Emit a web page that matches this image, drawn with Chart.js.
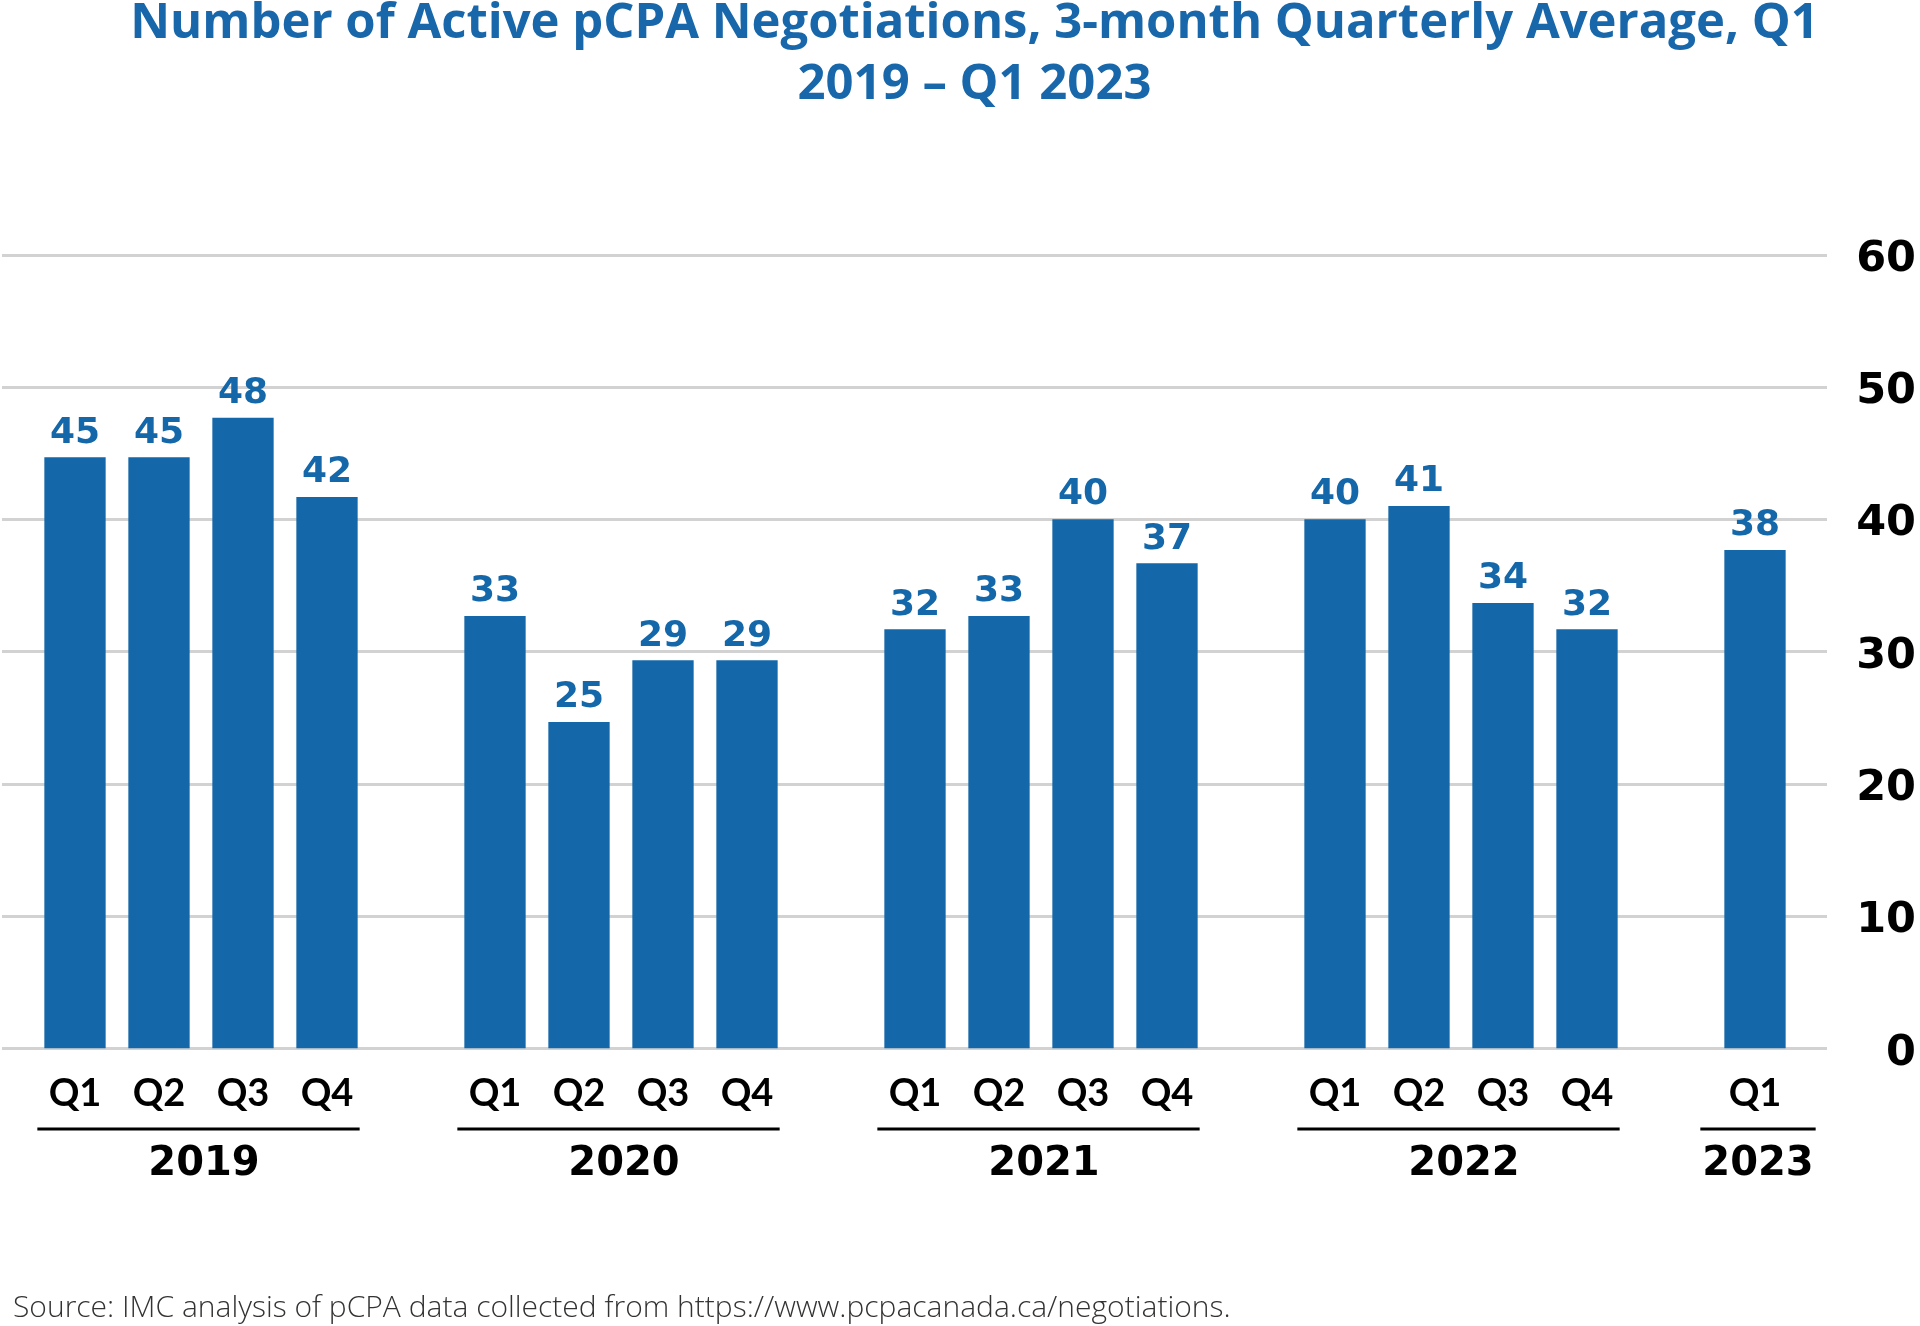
<!DOCTYPE html>
<html>
<head>
<meta charset="utf-8">
<script src="https://cdn.jsdelivr.net/npm/chart.js@4.4.1/dist/chart.umd.min.js"></script>
<style>
  html, body { margin: 0; padding: 0; background: #fff; }
  #wrap { width: 1920px; height: 1326px; position: relative; }
</style>
</head>
<body>
<div id="wrap"><canvas id="myChart"></canvas></div>
<script>
// active pCPA negotiations, 3-month quarterly averages
var years = ["2019", "2020", "2021", "2022", "2023"];
var quarters = ["Q1", "Q2", "Q3", "Q4"];
var values2019 = [44.67, 44.67, 47.67, 41.67];
var values2020 = [32.67, 24.67, 29.33, 29.33];
var values2021 = [31.67, 32.67, 40, 36.67];
var values2022 = [40, 41, 33.67, 31.67];
var values2023 = [37.67];
var yTicks = [0, 10, 20, 30, 40, 50, 60];

var seriesByYear = [values2019, values2020, values2021, values2022, values2023];

var BLUE = "#1467a9";
var TITLE_BLUE = "#1767aa";

// flat category list, one blank slot between years
var labels = [];
var data = [];
var groups = [];
seriesByYear.forEach(function (vals, i) {
    var from = labels.length;
    vals.forEach(function (v, q) {
        labels.push(quarters[q]);
        data.push(v);
    });
    groups.push({ year: years[i], from: from, to: labels.length - 1 });
    if (i < seriesByYear.length - 1) {
        labels.push("");
        data.push(null);
    }
});

var gridLines = {
    id: "gridLines",
    beforeDatasetsDraw: function (chart) {
        var ctx = chart.ctx;
        var y = chart.scales.y;
        ctx.save();
        ctx.strokeStyle = "#d2d2d2";
        ctx.lineWidth = 3;
        yTicks.forEach(function (t) {
            var py = Math.round(y.getPixelForValue(t)) + 0.5;
            ctx.beginPath();
            ctx.moveTo(2, py);
            ctx.lineTo(1827, py);
            ctx.stroke();
        });
        ctx.restore();
    }
};

var valueLabels = {
    id: "valueLabels",
    afterDatasetsDraw: function (chart) {
        var ctx = chart.ctx;
        var meta = chart.getDatasetMeta(0);
        ctx.save();
        ctx.fillStyle = BLUE;
        ctx.font = "bold 36px 'DejaVu Sans'";
        ctx.textAlign = "center";
        ctx.textBaseline = "bottom";
        meta.data.forEach(function (bar, i) {
            var v = chart.data.datasets[0].data[i];
            if (v === null) return;
            ctx.fillText(String(Math.round(v)), bar.x, bar.y - 6);
        });
        ctx.restore();
    }
};

var yearAxis = {
    id: "yearAxis",
    afterDraw: function (chart) {
        var ctx = chart.ctx;
        var x = chart.scales.x;
        var meta = chart.getDatasetMeta(0);
        var lineY = x.bottom - 11;
        ctx.save();
        ctx.font = "bold 40px 'DejaVu Sans'";
        ctx.fillStyle = "#000";
        ctx.strokeStyle = "#000";
        ctx.lineWidth = 3;
        ctx.textAlign = "center";
        ctx.textBaseline = "middle";
        groups.forEach(function (g) {
            var first = meta.data[g.from];
            var last = meta.data[g.to];
            var left = first.x - first.width / 2 - 7;
            var right = last.x + last.width / 2 + 2;
            var mid = (first.x + last.x) / 2 + 3;
            var tw = ctx.measureText(g.year).width;
            left = Math.min(left, mid - tw / 2 - 2);
            right = Math.max(right, mid + tw / 2 + 2);
            ctx.beginPath();
            ctx.moveTo(left, lineY);
            ctx.lineTo(right, lineY);
            ctx.stroke();
            ctx.fillText(g.year, mid, lineY + 36);
        });
        ctx.font = "300 30px 'Open Sans'";
        ctx.fillStyle = "#333";
        ctx.textAlign = "left";
        ctx.fillText("Source: IMC analysis of pCPA data collected from https://www.pcpacanada.ca/negotiations.", 13, 1308);
        ctx.restore();
    }
};

document.addEventListener("DOMContentLoaded", function () {
    var canvas = document.getElementById("myChart");
    var ctx = canvas.getContext("2d");
    new Chart(ctx, {
        type: "bar",
        data: {
            labels: labels,
            datasets: [
                {
                    label: "Active pCPA negotiations",
                    data: data,
                    backgroundColor: BLUE,
                    borderWidth: 0,
                    barPercentage: 0.73,
                    categoryPercentage: 1
                }
            ]
        },
        options: {
            responsive: true,
            maintainAspectRatio: false,
            animation: false,
            layout: {
                padding: { left: 33, right: 4, top: 0, bottom: 186 }
            },
            plugins: {
                legend: { display: false },
                tooltip: { enabled: false },
                title: {
                    display: true,
                    text: ["Number of Active pCPA Negotiations, 3-month Quarterly Average, Q1", "2019 \u2013 Q1 2023"],
                    color: TITLE_BLUE,
                    font: { family: "Open Sans", size: 49, weight: "bold", lineHeight: 1.25 },
                    padding: { top: -7, bottom: 139 }
                }
            },
            scales: {
                x: {
                    grid: { display: false, drawTicks: false },
                    border: { display: false },
                    ticks: {
                        color: "#000",
                        font: { family: "Lato", size: 38, weight: "bold" },
                        padding: 23,
                        autoSkip: false,
                        maxRotation: 0
                    }
                },
                y: {
                    position: "right",
                    min: 0,
                    max: 60,
                    grid: { display: false, drawTicks: false },
                    border: { display: false },
                    afterFit: function (scale) { scale.width = 119; },
                    ticks: {
                        stepSize: 10,
                        color: "#000",
                        crossAlign: "far",
                        padding: 0,
                        labelOffset: 5,
                        font: { family: "DejaVu Sans", size: 43, weight: "bold" }
                    }
                }
            }
        },
        plugins: [gridLines, valueLabels, yearAxis]
    });
});
</script>
</body>
</html>
